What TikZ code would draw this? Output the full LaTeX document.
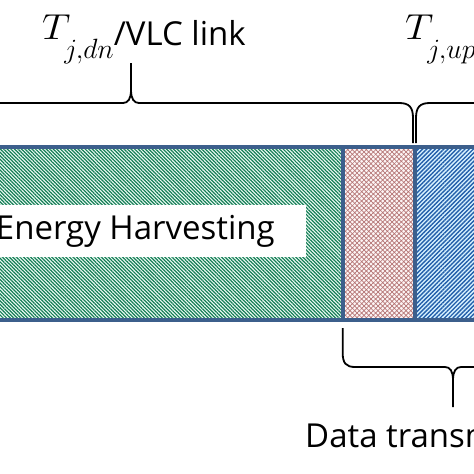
\documentclass[tikz,border=0pt]{standalone}
\usepackage{fontspec}
\setmainfont{Open Sans}
\usetikzlibrary{positioning,patterns.meta}

\definecolor{barline}{RGB}{60,95,140}
\definecolor{harvline}{RGB}{20,125,85}
\definecolor{harvbg}{RGB}{238,252,246}
\definecolor{dataline}{RGB}{180,115,115}
\definecolor{databg}{RGB}{253,245,245}
\definecolor{upline}{RGB}{35,95,170}
\definecolor{upbg}{RGB}{215,242,255}
\newcommand{\tsym}[1]{\raisebox{6pt}{\scalebox{1.6}[1.45]{$T$}}\kern-6pt%
    \raisebox{-13pt}{\scalebox{1.12}{$\scriptstyle #1$}}}

\begin{document}
\begin{tikzpicture}[
    x=1pt, y=-1pt,
    seg/.style={
        rectangle, draw=barline, line width=4pt,
        outer sep=0pt, inner sep=0pt, minimum height=173.6pt
    },
    harv/.style={seg, minimum width=542.7pt, preaction={fill=harvbg},
        pattern={Lines[angle=-45,distance=2.5pt,line width=1.2pt]}, pattern color=harvline},
    data/.style={seg, minimum width=72.6pt, preaction={fill=databg},
        preaction={pattern={Lines[angle=45,distance=3.3pt,line width=0.7pt]}, pattern color=dataline},
        pattern={Lines[angle=-45,distance=3.3pt,line width=0.7pt]}, pattern color=dataline},
    up/.style={seg, minimum width=200pt, preaction={fill=upbg},
        pattern={Lines[angle=45,distance=3pt,line width=1.4pt]}, pattern color=upline},
    namebox/.style={fill=white, inner xsep=31pt, minimum height=52pt,
        font=\fontsize{33}{38}\selectfont},
    lbl/.style={inner sep=0pt, font=\fontsize{33}{38}\selectfont},
    brace/.style={line width=1.8pt, black}
]
    \useasboundingbox (0,0) rectangle (474,474);
    \clip (0,0) rectangle (474,474);

    % Frame bar
    \node[harv] (harvest) at (71.35,233.5) {};
    \node[data, right=0pt of harvest] (trans) {};
    \node[up, right=0pt of trans] (uplink) {};
    \node[namebox, anchor=east] (harvlbl) at (306,231) {Energy Harvesting};

    % Braces
    \draw[brace] (413,143) -- (413,118) .. controls (413,107) and (409,103) .. (399,103)
        -- (139,103) .. controls (134,103) and (131,99) .. (131,90) -- (131,63);
    \draw[brace] (131,90) .. controls (131,99) and (128,103) .. (123,103) -- (-150,103);
    \draw[brace] (416,143) -- (416,118) .. controls (416,107) and (420,103) .. (430,103) -- (490,103);
    \draw[brace] (342.7,328) -- (342.7,353) .. controls (342.7,363) and (346,367) .. (355,367)
        -- (445,367) .. controls (450,367) and (453,371) .. (453,380) -- (453,407);
    \draw[brace] (453,380) .. controls (453,371) and (456,367) .. (461,367) -- (490,367);

    % Labels
    \node[lbl, anchor=base west] (dnlbl) at (42,45) {\tsym{j,dn}/VLC link};
    \node[lbl, anchor=base west] (uplbl) at (405,45) {\tsym{j,up}};
    \node[lbl, anchor=base west] (datalbl) at (305,447) {Data transmission};
\end{tikzpicture}
\end{document}
